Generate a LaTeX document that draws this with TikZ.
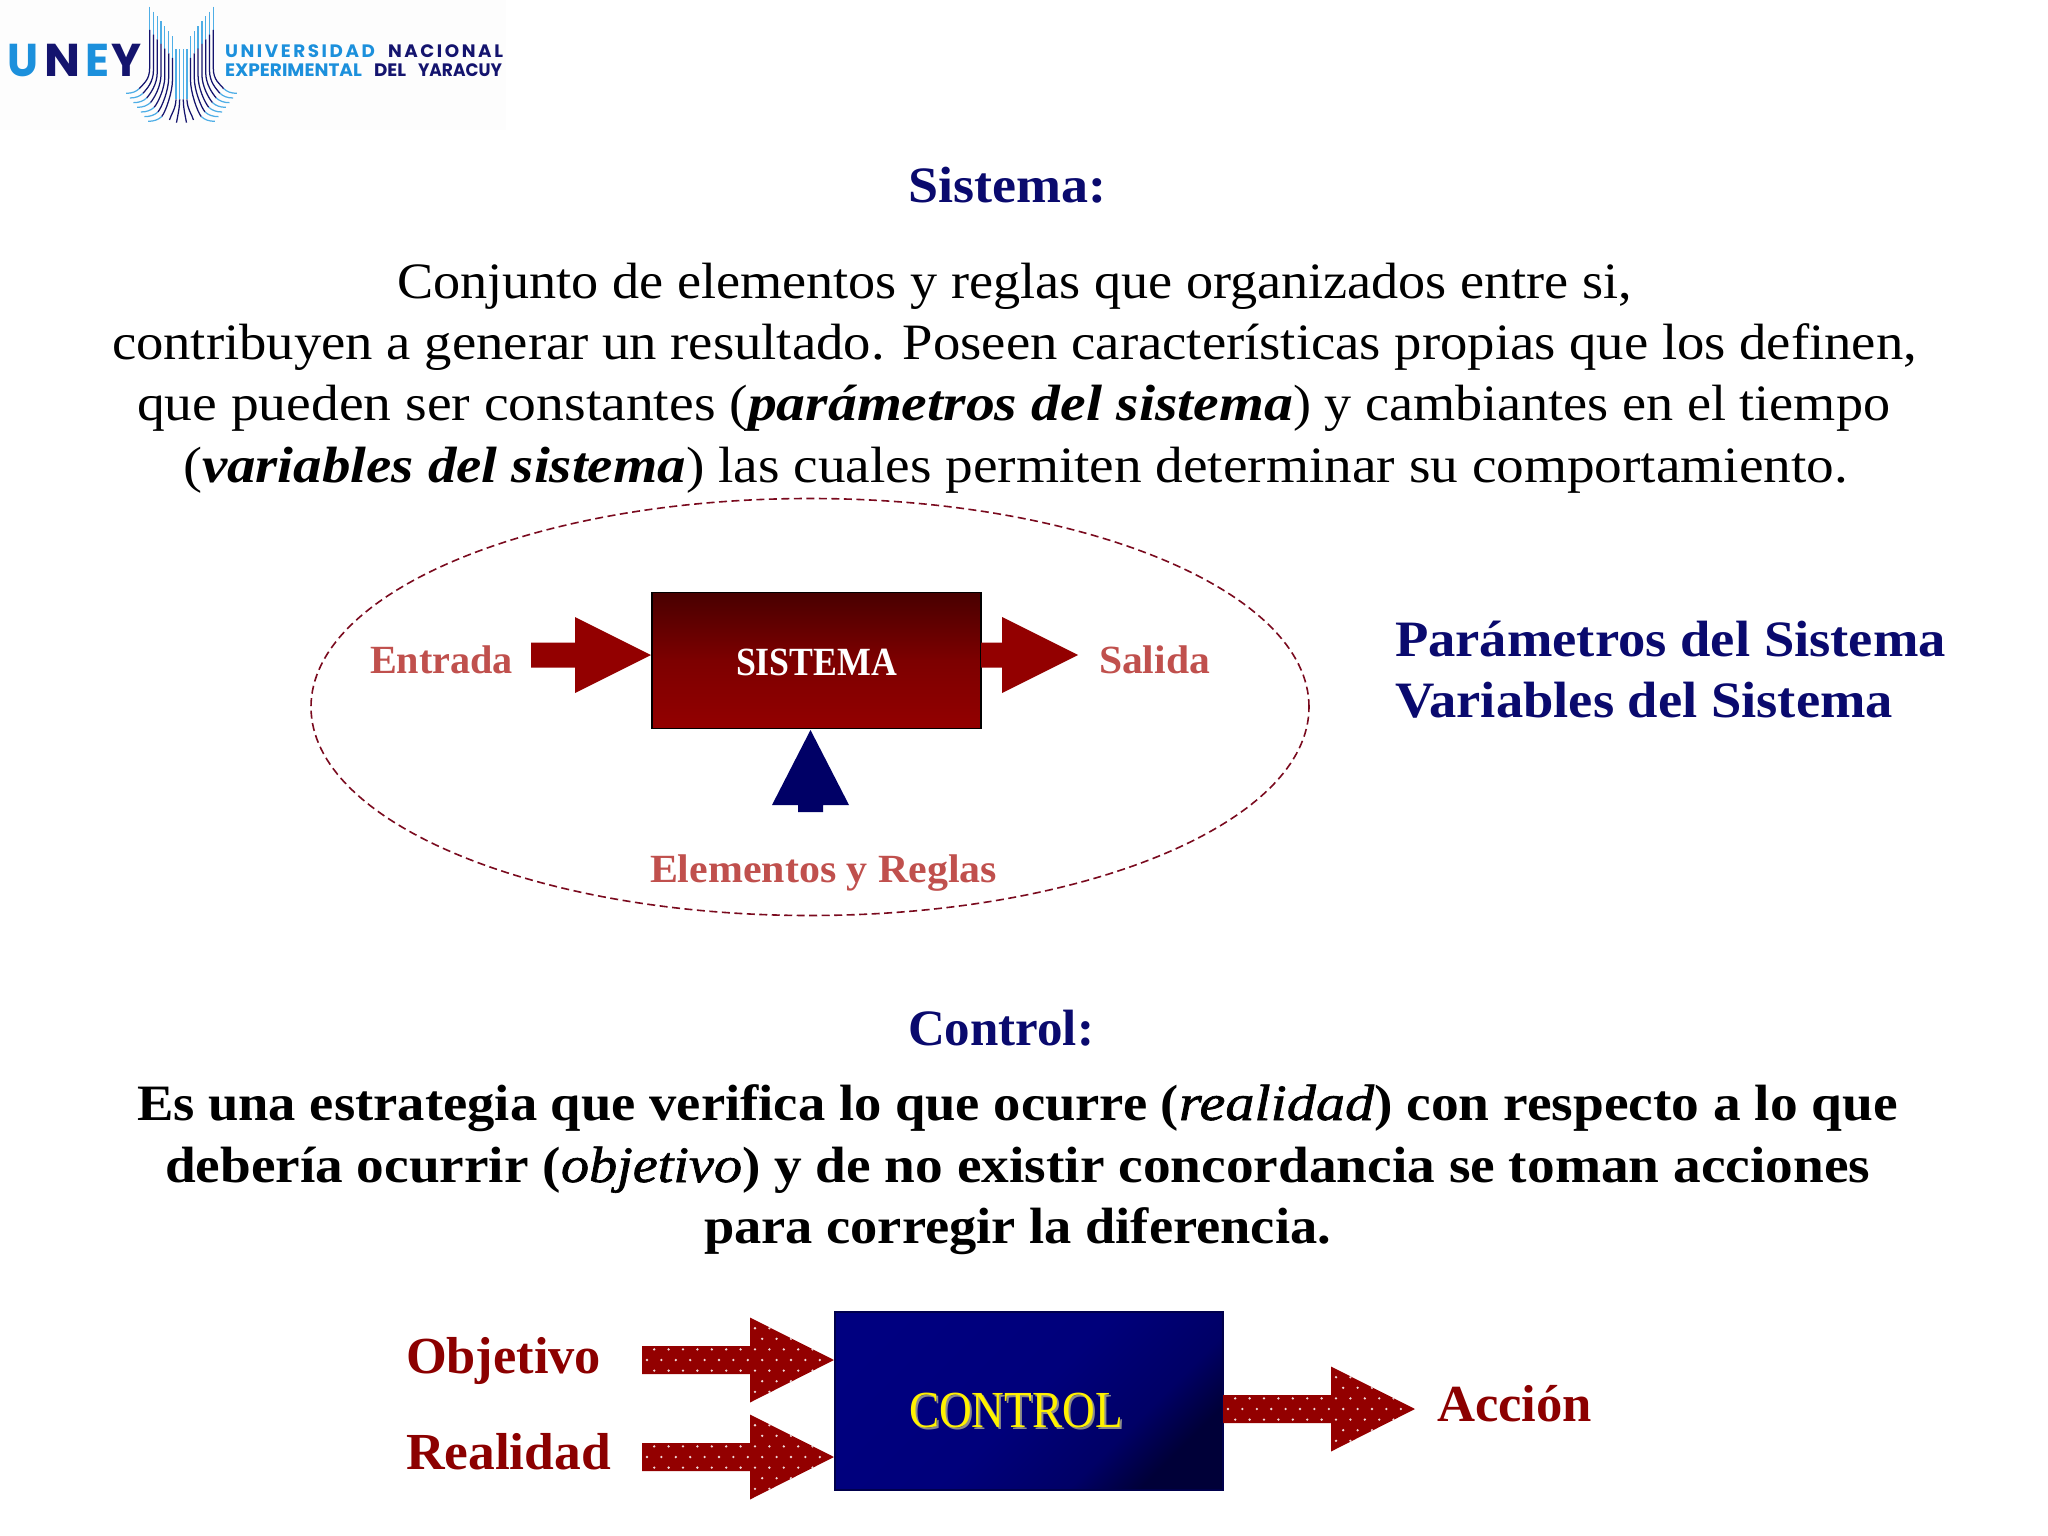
\documentclass[tikz,border=0pt]{standalone}
\usepackage{fontspec}
\usepackage{graphicx}
\usetikzlibrary{calc,shadings,shapes.geometric}
\setmainfont{Liberation Serif}
\newfontfamily\logofont{Poppins}
\newfontface\semit[FakeBold=1.2]{Liberation Serif Italic}
\definecolor{headnavy}{HTML}{0A0A6E}
\definecolor{soft}{HTML}{C0504D}
\definecolor{arrowred}{HTML}{930000}
\definecolor{deepred}{HTML}{8C0000}
\definecolor{bluearrow}{HTML}{000066}
\definecolor{ringred}{HTML}{7A0A1E}
\definecolor{logolight}{HTML}{1C90DC}
\definecolor{logopale}{HTML}{4FAEE6}
\definecolor{logonavy}{HTML}{14146E}
\pgfdeclareverticalshading{ctlshade}{100bp}{color(0bp)=(blue!50!black); color(25bp)=(blue!50!black); color(50bp)=(blue!48!black); color(66bp)=(blue!40!black); color(75bp)=(blue!22!black); color(100bp)=(blue!22!black)}
\newcommand\fs[1]{\fontsize{#1}{#1}\selectfont}
% a line of text fitted to a measured width
\newcommand\fitw[2]{\resizebox{#1pt}{\height}{#2}}
\newcommand\barrowpath[5]{($(#1)!#3pt!90:(#2)$) -- ($($(#2)!#5pt!(#1)$)!#3pt!90:(#2)$) -- ($($(#2)!#5pt!(#1)$)!#4pt!90:(#2)$) -- (#2) -- ($($(#2)!#5pt!(#1)$)!#4pt!-90:(#2)$) -- ($($(#2)!#5pt!(#1)$)!#3pt!-90:(#2)$) -- ($(#1)!#3pt!-90:(#2)$) -- cycle}
\newcommand\dotarrow[5]{%
  \fill[arrowred] \barrowpath{#1}{#2}{#3}{#4}{#5};
  \begin{scope}
    \clip \barrowpath{#1}{#2}{#3}{#4}{#5};
    \foreach \u in {0,...,14}{\foreach \v in {-4,...,4}{
      \pgfmathsetmacro\dx{\u*14.4+7.2*mod(abs(\v),2)+5}
      \pgfmathsetmacro\dy{\v*10.6}
      \fill[white!85!arrowred] ([shift={(\dx,\dy)}]#1) circle (1.3);
    }}
  \end{scope}}
\tikzset{
  txt/.style={anchor=base west,inner sep=0pt,outer sep=0pt},
  bodyline/.style={txt,text=black,font=\fs{51}},
  boldline/.style={txt,text=black,font=\fs{51}\bfseries},
  heading/.style={txt,text=headnavy,font=\fs{51}\bfseries},
  softlabel/.style={txt,text=soft,font=\fs{40}\bfseries},
  redlabel/.style={txt,text=deepred,font=\fs{52}\bfseries},
  boxnode/.style={draw=black,line width=1.6pt,inner sep=0pt,minimum width=#1},
  logotxt/.style={txt,font=\logofont\bfseries\fs{18}},
  logobig/.style={txt,font=\logofont\bfseries\fs{46}},
  solidarrow/.style={fill=arrowred},
}
\begin{document}
\begin{tikzpicture}[x=1pt,y=-1pt]
\useasboundingbox (0,0) rectangle (2048,1536);
\fill[white] (0,0) rectangle (2048,1536);
% logo
\fill[black!0.7] (0,0) rectangle (506,130);
\begin{scope}[x=0.3333pt,y=-0.3333pt,line width=1.25pt]
  \foreach \s in {1,-1}{
  \begin{scope}[shift={(544.5,0)},xscale=\s]
    \foreach \i in {0,...,6}{
      \pgfmathsetmacro\xx{95.5-11.4*\i}
      \pgfmathsetmacro\yt{20+14.7*\i}
      \pgfmathsetmacro\yd{90+14*\i}
      \pgfmathsetmacro\yb{205+6*\i}
      \pgfmathsetmacro\xe{166-11*\i}
      \pgfmathsetmacro\ye{280+14*\i}
      \pgfmathsetmacro\xm{(\xx+\xe)/2-4}
      \pgfmathsetmacro\ym{\ye-14}
      \draw[logopale] (\xx,\yt) -- (\xx,\yd);
      \draw[logonavy] (\xx,\yd) -- (\xx,\yb) .. controls (\xx,\yb+35) and (\xm-12,\ym-14) .. (\xm,\ym);
      \draw[logopale] (\xm,\ym) .. controls (\xm+10,\ym+9) and (\xe-18,\ye) .. (\xe,\ye);
    }
    \foreach \xx/\xe/\ye in {5.5/15/368,16.5/36/360}{
      \draw[logopale] (\xx,148) -- (\xx,298);
      \draw[logonavy] (\xx,298) .. controls (\xx,325) and (\xe-4,345) .. (\xe,\ye);
    }
  \end{scope}}
\end{scope}
\node[logobig,text=logolight] (lu) at (7,77) {\fitw{31}{U}};
\node[logobig,text=logonavy] (ln) at (44,77) {\fitw{36}{N}};
\node[logobig,text=logolight] (le) at (85,77) {\fitw{24}{E}};
\node[logobig,text=logonavy] (ly) at (111,77) {\fitw{30}{Y}};
\node[logotxt,text=logolight] (l1) at (225,58) {\fitw{150}{\addfontfeature{LetterSpace=14}UNIVERSIDAD}};
\node[logotxt,text=logonavy] (l2) at (388,58) {\fitw{115}{\addfontfeature{LetterSpace=14}NACIONAL}};
\node[logotxt,text=logolight] (l3) at (225,77) {\fitw{137}{EXPERIMENTAL}};
\node[logotxt,text=logonavy] (l4) at (374,77) {\fitw{32}{DEL}};
\node[logotxt,text=logonavy] (l5) at (418,77) {\fitw{84}{YARACUY}};
% Sistema
\node[heading] (t1) at (908,202) {\fitw{198}{Sistema:}};
\node[bodyline] (b1) at (397,298) {\fitw{1235}{Conjunto de elementos y reglas que organizados entre si,}};
\node[bodyline] (b2) at (112,359) {\fitw{1805}{contribuyen a generar un resultado. Poseen características propias que los definen,}};
\node[bodyline] (b3) at (137,420) {\fitw{611}{que pueden ser constantes (}\fitw{545}{\textbf{\textit{parámetros del sistema}}}\fitw{597}{) y cambiantes en el tiempo}};
\node[bodyline] (b4) at (183,482) {\fitw{19}{(}\fitw{484}{\textbf{\textit{variables del sistema}}}\fitw{1162}{) las cuales permiten determinar su comportamiento.}};
\node[heading] (p1) at (1395,656) {\fitw{551}{Parámetros del Sistema}};
\node[heading] (p2) at (1395,717) {\fitw{498}{Variables del Sistema}};
% ellipse
\node[draw=ringred,dash pattern=on 8pt off 4.5pt,line width=1.6pt,ellipse,minimum width=998pt,minimum height=417pt,inner sep=0pt] (ring) at (810,707) {};
% sistema box
\node[boxnode=329pt,minimum height=136pt,top color=black!10!arrowred!55!black,bottom color=arrowred,middle color=arrowred!85!black] (sis) at (816.5,660.5) {};
\node[txt,text=white,font=\fs{40}\bfseries] (sist) at (736,675) {\fitw{161}{SISTEMA}};
\coordinate (entA) at (531,655);
\coordinate (entB) at (651,655);
\coordinate (salA) at (981,655);
\coordinate (salB) at (1078,655);
\coordinate (eleA) at (810.5,812);
\coordinate (eleB) at (810.5,730);
\fill[solidarrow] \barrowpath{entA}{entB}{12.5}{38}{76};
\fill[solidarrow] \barrowpath{salA}{salB}{12.5}{38}{76};
\fill[bluearrow] \barrowpath{eleA}{eleB}{12.5}{38.5}{75};
\node[softlabel] (ent) at (370,673) {\fitw{143}{Entrada}};
\node[softlabel] (sal) at (1099,673) {\fitw{111}{Salida}};
\node[softlabel] (ele) at (650,882) {\fitw{347}{Elementos y Reglas}};
% Control
\node[heading] (t2) at (908,1045) {\fitw{186}{Control:}};
\node[boldline] (c1) at (137,1120) {\fitw{1042}{Es una estrategia que verifica lo que ocurre (}\fitw{195}{\semit realidad}\fitw{524}{) con respecto a lo que}};
\node[boldline] (c2) at (165,1182) {\fitw{396}{debería ocurrir (}\fitw{181}{\semit objetivo}\fitw{1128}{) y de no existir concordancia se toman acciones}};
\node[boldline] (c3) at (704,1243) {\fitw{627}{para corregir la diferencia.}};
\node[draw=black!70!blue,line width=1.6pt,inner sep=0pt,minimum width=388pt,minimum height=178pt,shade,shading=ctlshade,shading angle=225] (ctl) at (1029,1401) {};
\node[txt,text=black!45,font=\fs{52}] (ctls) at (911,1429) {\fitw{214}{CONTROL}};
\node[txt,text=yellow,font=\fs{52}] (ctlt) at (909,1427) {\fitw{214}{CONTROL}};
\coordinate (objA) at (642,1360);
\coordinate (objB) at (834,1360);
\coordinate (reaA) at (642,1457);
\coordinate (reaB) at (834,1457);
\coordinate (accA) at (1223,1409);
\coordinate (accB) at (1415,1409);
\dotarrow{objA}{objB}{14}{42.5}{84}
\dotarrow{reaA}{reaB}{14}{42.5}{84}
\dotarrow{accA}{accB}{14}{42.5}{84}
\node[redlabel] (obj) at (406,1373) {\fitw{195}{Objetivo}};
\node[redlabel] (rea) at (406,1469) {\fitw{205}{Realidad}};
\node[redlabel] (acc) at (1437,1421) {\fitw{155}{Acción}};
\end{tikzpicture}
\end{document}
